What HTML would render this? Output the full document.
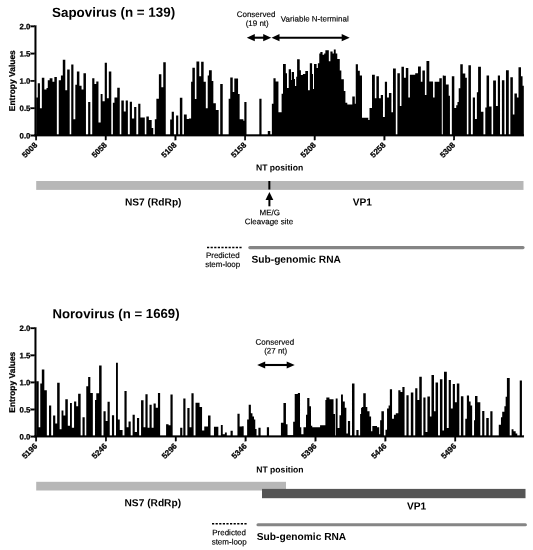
<!DOCTYPE html><html><head><meta charset="utf-8"><title>Entropy</title><style>html,body{margin:0;padding:0;background:#fff}svg{display:block;filter:blur(0.3px)}</style></head><body><svg width="533" height="550" viewBox="0 0 533 550" text-rendering="geometricPrecision" font-family="'Liberation Sans', sans-serif" fill="#000">
<rect width="533" height="550" fill="#fff"/>
<g fill="#000"><path d="M36.19 135.50V97.38H37.76V83.30H39.95V108.34H41.82V77.82H44.33V89.56H46.52V87.99H47.77V80.17H49.65V78.29H52.47V81.73H54.34V77.04H56.85V135.50ZM58.73 135.50V80.17H60.92V75.47H62.79V59.82H65.30V90.34H67.18V69.53H69.68V135.50ZM71.24 135.50V64.52H73.44V119.29H75.31V84.86H76.88V71.56H79.38V85.65H81.57V89.56H83.45V73.13H85.95V135.50ZM88.15 135.50V102.08H90.34V135.50ZM92.21 135.50V78.29H94.40V84.08H96.28V81.42H98.47V122.42H100.66V93.94H102.54V101.29H104.73V62.64H106.92V98.16H108.80V71.56H111.31V135.50ZM112.87 135.50V102.86H114.44V97.38H116.00V97.38H117.25V87.68H119.76V135.50ZM121.32 135.50V100.51H123.82V111.47H125.70V100.51H127.89V135.50ZM129.77 135.50V101.76H131.96V118.51H134.15V107.08H136.34V135.50ZM138.22 135.50V103.64H140.41V117.41H144.79V135.50ZM146.36 135.50V116.47H148.86V120.07H151.68V127.90H153.24V135.50ZM154.81 135.50V119.29H156.37V98.63H158.88V74.22H161.38V87.21H163.26V62.33H165.76V135.50ZM170.15 135.50V119.60H171.71V111.78H173.90V135.50ZM176.09 135.50V115.38H178.28V135.50ZM179.85 135.50V97.69H182.35V135.50ZM183.92 135.50V114.60H186.73V118.98H188.92V118.51H191.11V81.73H192.37V67.65H194.87V98.95H196.44V61.39H198.00V61.39H199.25V76.26H201.13V61.70H203.63V81.73H205.82V108.34H207.70V75.47H208.95V70.15H211.77V80.95H213.34V103.33H215.84V109.90H218.66V135.50ZM220.22 135.50V83.92H222.73V135.50ZM228.67 135.50V98.63H230.24V77.51H232.74V91.90H234.31V78.60H238.06V93.94H239.63V119.29H243.38V120.85H244.32V102.08H246.51V135.50ZM259.34 135.50V98.63H261.53V135.50ZM267.79 135.50V131.03H270.30V135.50ZM271.86 135.50V103.64H273.43V78.29H275.62V81.42H278.44V112.25H280.00V112.20H281.60V93.80H283.00V64.10H285.80V73.30H287.00V88.10H288.70V69.20H291.00V80.00H291.70V72.10H294.00V79.00H295.00V86.00H296.20V76.80H297.10V59.30H299.70V70.20H300.90V75.00H302.90V74.10H305.30V71.10H308.00V90.30H309.80V63.20H312.10V74.10H313.00V89.00H314.00V63.90H316.60V68.00H317.90V63.20H319.28V53.41H320.37V52.00H322.56V54.66H324.13V53.41H325.38V50.28H328.82V61.23H330.39V51.53H332.58V53.41H333.83V49.50H335.71V53.41H337.27V58.89H339.78V70.62H341.34V79.23H343.85V91.12H345.41V102.86H347.29V104.42H352.30V96.60H354.80V103.64H355.74V64.21H357.93V70.78H359.81V75.47H362.00V117.73H368.26V120.07H369.51V108.02H372.02V74.69H374.83V98.16H376.40V76.26H378.90V98.16H380.78V95.03H382.97V116.94H384.85V81.73H387.04V97.38H388.92V93.00H391.42V112.25H392.98V68.43H395.80V135.50ZM397.37 135.50V73.13H399.87V105.99H401.44V66.87H403.94V77.82H405.82V68.12H408.32V97.38H409.89V74.69H415.21V73.13H418.02V66.40H420.84V81.73H422.40V70.47H424.91V95.03H426.47V61.08H429.29V81.42H433.05V97.38H434.61V81.73H439.31V78.29H441.81V135.50ZM442.75 135.50V75.47H444.00V75.79H445.88V84.55H448.69V95.82H449.95V135.50ZM451.82 135.50V76.26H454.33V108.02H456.21V105.21H457.46V102.08H458.71V88.31H460.27V64.21H462.78V73.60H465.28V77.82H466.85V135.50ZM468.41 135.50V65.30H470.92V135.50ZM472.79 135.50V97.38H474.98V118.98H476.86V92.37H478.11V66.87H480.93V111.78H483.44V135.50ZM485.31 135.50V107.55H486.56V75.47H489.07V106.46H491.57V135.50ZM493.14 135.50V80.48H495.95V105.99H497.83V75.47H500.02V135.50ZM501.90 135.50V80.17H504.40V135.50ZM505.97 135.50V70.31H508.79V135.50ZM510.35 135.50V77.35H512.85V114.60H514.42V93.47H516.92V97.38H518.49V67.18H520.99V76.26H522.56V85.65H523.81V135.50Z"/></g>
<g fill="#000" stroke="#000" stroke-width="0.25"><rect x="34.6" y="25.50" width="1.7" height="110.65"/><rect x="34.6" y="134.40" width="489.3" height="1.75"/><rect x="30.7" y="25.50" width="4" height="1.6"/><text transform="translate(30.4,29.20) rotate(-0.05)" text-anchor="end" font-size="7.8" font-weight="bold">2.0</text><rect x="30.7" y="52.80" width="4" height="1.6"/><text transform="translate(30.4,56.50) rotate(-0.05)" text-anchor="end" font-size="7.8" font-weight="bold">1.5</text><rect x="30.7" y="80.10" width="4" height="1.6"/><text transform="translate(30.4,83.80) rotate(-0.05)" text-anchor="end" font-size="7.8" font-weight="bold">1.0</text><rect x="30.7" y="107.40" width="4" height="1.6"/><text transform="translate(30.4,111.10) rotate(-0.05)" text-anchor="end" font-size="7.8" font-weight="bold">0.5</text><rect x="30.7" y="134.70" width="4" height="1.6"/><text transform="translate(30.4,138.40) rotate(-0.05)" text-anchor="end" font-size="7.8" font-weight="bold">0.0</text><rect x="35.30" y="135.50" width="1.6" height="4.6"/><text transform="translate(37.80,145.60) rotate(-45)" text-anchor="end" font-size="8.0" font-weight="bold">5008</text><rect x="104.96" y="135.50" width="1.6" height="4.6"/><text transform="translate(107.46,145.60) rotate(-45)" text-anchor="end" font-size="8.0" font-weight="bold">5058</text><rect x="174.62" y="135.50" width="1.6" height="4.6"/><text transform="translate(177.12,145.60) rotate(-45)" text-anchor="end" font-size="8.0" font-weight="bold">5108</text><rect x="244.28" y="135.50" width="1.6" height="4.6"/><text transform="translate(246.78,145.60) rotate(-45)" text-anchor="end" font-size="8.0" font-weight="bold">5158</text><rect x="313.94" y="135.50" width="1.6" height="4.6"/><text transform="translate(316.44,145.60) rotate(-45)" text-anchor="end" font-size="8.0" font-weight="bold">5208</text><rect x="383.60" y="135.50" width="1.6" height="4.6"/><text transform="translate(386.10,145.60) rotate(-45)" text-anchor="end" font-size="8.0" font-weight="bold">5258</text><rect x="453.26" y="135.50" width="1.6" height="4.6"/><text transform="translate(455.76,145.60) rotate(-45)" text-anchor="end" font-size="8.0" font-weight="bold">5308</text><text transform="translate(14.5,80.70) rotate(-90)" text-anchor="middle" font-size="8.45" font-weight="bold">Entropy Values</text></g>
<text transform="translate(52,16.9) rotate(-0.05)" font-size="13.4" font-weight="bold">Sapovirus (n = 139)</text>
<text transform="translate(256,17.1) rotate(-0.05)" font-size="8.0" stroke="#000" stroke-width="0.15" text-anchor="middle">Conserved</text>
<text transform="translate(257.2,25.9) rotate(-0.05)" font-size="8.0" stroke="#000" stroke-width="0.15" text-anchor="middle">(19 nt)</text>
<text transform="translate(314.8,21.6) rotate(-0.05)" font-size="8.0" stroke="#000" stroke-width="0.15" text-anchor="middle">Variable N-terminal</text>
<path d="M253.8 37.7H264.2" stroke="#000" stroke-width="2.1" fill="none"/><path d="M246.8 37.7L254.8 34.1V41.300000000000004Z M271.2 37.7L263.2 34.1V41.300000000000004Z" fill="#000"/>
<path d="M278.5 37.7H342.7" stroke="#000" stroke-width="2.1" fill="none"/><path d="M271.5 37.7L279.5 34.1V41.300000000000004Z M349.7 37.7L341.7 34.1V41.300000000000004Z" fill="#000"/>
<text transform="translate(279.6,170.6) rotate(-0.05)" font-size="8.6" font-weight="bold" text-anchor="middle">NT position</text>
<rect x="36.2" y="181" width="487.3" height="8.9" fill="#b7b7b7"/>
<rect x="268.35" y="181" width="2.0" height="8.5" fill="#000"/>
<path d="M269.4 206.3V198" stroke="#000" stroke-width="2.0"/><path d="M269.4 191.9L273.3 200H265.5Z" fill="#000"/>
<text transform="translate(153.2,205.4) rotate(-0.05)" font-size="10.2" font-weight="bold" text-anchor="middle">NS7 (RdRp)</text>
<text transform="translate(362.4,205.4) rotate(-0.05)" font-size="10.2" font-weight="bold" text-anchor="middle">VP1</text>
<text transform="translate(269.8,215.2) rotate(-0.05)" font-size="8.0" stroke="#000" stroke-width="0.15" text-anchor="middle">ME/G</text>
<text transform="translate(269,224.2) rotate(-0.05)" font-size="8.0" stroke="#000" stroke-width="0.15" text-anchor="middle">Cleavage site</text>
<path d="M207 247.4H241.7" stroke="#000" stroke-width="1.5" stroke-dasharray="2.2 1.4" fill="none"/>
<text transform="translate(222.8,258) rotate(-0.05)" font-size="8.0" stroke="#000" stroke-width="0.15" text-anchor="middle">Predicted</text>
<text transform="translate(222.7,267) rotate(-0.05)" font-size="8.0" stroke="#000" stroke-width="0.15" text-anchor="middle">stem-loop</text>
<path d="M249.8 247.6H523" stroke="#858585" stroke-width="3.1" stroke-linecap="round" fill="none"/>
<text transform="translate(251.5,262.7) rotate(-0.05)" font-size="10.2" font-weight="bold">Sub-genomic RNA</text>
<g fill="#000"><path d="M36.19 436.60V381.17H38.69V427.33H40.26V383.52H41.82V369.43H44.33V390.24H46.83V436.60ZM49.02 436.60V405.42H51.21V436.60ZM53.09 436.60V415.60H55.28V423.42H57.16V382.73H59.66V429.37H61.54V410.59H63.42V415.60H65.30V399.16H67.80V425.77H69.99V403.08H71.87V427.80H74.06V401.51H76.25V406.21H78.13V393.69H80.63V436.60ZM82.51 436.60V417.16H84.70V436.60ZM86.27 436.60V386.18H88.15V376.94H90.34V392.90H92.84V436.60ZM95.03 436.60V399.95H96.28V393.37H99.10V365.52H101.60V436.60ZM103.48 436.60V411.21H105.67V421.07H107.55V401.82H109.74V436.60ZM111.93 436.60V415.28H114.12V436.60ZM116.00 436.60V362.70H117.88V419.51H119.76V429.99H122.57V436.60ZM124.45 436.60V391.03H126.64V427.33H128.52V421.54H130.71V436.60ZM132.59 436.60V414.81H134.78V432.03H136.97V417.94H139.16V436.60ZM141.04 436.60V400.26H143.54V427.33H145.42V394.16H147.61V427.80H149.49V404.64H151.68V427.80H153.56V403.39H155.75V407.77H157.94V392.90H160.13V436.60ZM166.08 436.60V424.20H168.58V425.30H170.46V394.47H172.65V436.60ZM180.16 436.60V427.65H182.35V436.60ZM183.29 436.60V398.38H185.48V436.60ZM187.36 436.60V408.08H189.55V427.33H191.43V393.37H193.62V436.60ZM195.50 436.60V402.76H198.00V402.76H199.56V406.99H202.07V430.46H204.26V426.55H208.02V415.60H210.52V436.60ZM213.96 436.60V426.86H218.34V436.60ZM220.85 436.60V424.98H222.73V434.37H224.92V432.50H226.79V436.60ZM230.55 436.60V430.77H232.74V436.60ZM237.44 436.60V413.72H239.63V426.55H241.82V426.24H243.69V436.60ZM247.14 436.60V419.51H248.70V404.64H250.89V413.25H252.46V416.38H254.02V419.51H255.27V428.90H256.53V436.60ZM258.40 436.60V427.80H260.60V436.60ZM266.85 436.60V427.33H269.05V436.60ZM280.94 436.60V422.64H283.44V403.08H285.95V424.20H287.51V435.16H293.15V421.85H294.71V394.00H297.84V392.90H300.03V427.33H301.28V434.37H303.47V427.33H305.98V414.81H307.23V398.07H309.42V406.21H310.98V425.77H312.24V427.33H320.06V425.30H325.38V399.95H326.32V397.60H329.45V399.16H333.52V414.03H335.08V436.60ZM335.71 436.60V398.38H337.59V428.11H339.47V415.28H341.03V394.47H342.91V401.51H344.79V407.77H346.35V433.59H347.92V421.07H350.11V436.60ZM351.98 436.60V383.52H354.49V436.60ZM356.37 436.60V429.99H358.56V436.60ZM360.12 436.60V414.03H361.06V407.77H362.00V406.99H363.25V393.37H365.76V406.99H367.32V411.21H369.51V416.38H371.08V431.24H372.33V426.08H377.02V427.33H379.21V434.37H380.15V420.29H381.40V411.21H383.91V436.60ZM385.47 436.60V429.68H387.04V408.55H388.60V405.42H389.85V389.31H392.05V418.73H393.92V414.81H395.80V413.25H398.31V390.24H400.50V392.12H402.37V387.11H404.56V436.60ZM406.44 436.60V395.25H408.63V436.60ZM410.82 436.60V392.44H413.33V436.60ZM415.21 436.60V388.21H417.40V399.95H419.27V376.79H421.78V436.60ZM423.34 436.60V397.60H425.53V432.03H427.41V396.50H429.92V416.38H431.48V374.91H433.98V411.21H435.55V382.42H438.05V436.60ZM439.93 436.60V379.29H442.44V430.46H444.00V371.78H446.82V428.11H448.69V379.92H450.89V408.55H452.76V383.98H454.95V402.29H456.83V383.52H459.34V436.60ZM460.90 436.60V396.35H463.40V436.60ZM465.28 436.60V418.73H466.85V395.56H469.04V401.51H470.60V405.42H472.17V436.60ZM474.05 436.60V420.29H474.98V396.03H477.49V402.29H480.31V436.60ZM482.18 436.60V410.90H484.37V436.60ZM486.25 436.60V417.94H488.76V436.60ZM490.32 436.60V411.37H492.51V436.60ZM498.77 436.60V424.67H500.96V417.16H502.21V411.68H504.40V406.21H505.66V396.82H506.91V378.04H509.73V436.60ZM511.60 436.60V429.21H513.48V431.24H515.67V433.59H517.24V436.60ZM519.74 436.60V380.39H521.93V436.60Z"/></g>
<g fill="#000" stroke="#000" stroke-width="0.25"><rect x="34.6" y="327.40" width="1.7" height="109.85"/><rect x="34.6" y="435.50" width="489.3" height="1.75"/><rect x="30.7" y="327.40" width="4" height="1.6"/><text transform="translate(30.4,331.10) rotate(-0.05)" text-anchor="end" font-size="7.8" font-weight="bold">2.0</text><rect x="30.7" y="354.50" width="4" height="1.6"/><text transform="translate(30.4,358.20) rotate(-0.05)" text-anchor="end" font-size="7.8" font-weight="bold">1.5</text><rect x="30.7" y="381.60" width="4" height="1.6"/><text transform="translate(30.4,385.30) rotate(-0.05)" text-anchor="end" font-size="7.8" font-weight="bold">1.0</text><rect x="30.7" y="408.70" width="4" height="1.6"/><text transform="translate(30.4,412.40) rotate(-0.05)" text-anchor="end" font-size="7.8" font-weight="bold">0.5</text><rect x="30.7" y="435.80" width="4" height="1.6"/><text transform="translate(30.4,439.50) rotate(-0.05)" text-anchor="end" font-size="7.8" font-weight="bold">0.0</text><rect x="35.30" y="436.60" width="1.6" height="4.6"/><text transform="translate(37.80,446.70) rotate(-45)" text-anchor="end" font-size="8.0" font-weight="bold">5196</text><rect x="105.15" y="436.60" width="1.6" height="4.6"/><text transform="translate(107.65,446.70) rotate(-45)" text-anchor="end" font-size="8.0" font-weight="bold">5246</text><rect x="175.00" y="436.60" width="1.6" height="4.6"/><text transform="translate(177.50,446.70) rotate(-45)" text-anchor="end" font-size="8.0" font-weight="bold">5296</text><rect x="244.85" y="436.60" width="1.6" height="4.6"/><text transform="translate(247.35,446.70) rotate(-45)" text-anchor="end" font-size="8.0" font-weight="bold">5346</text><rect x="314.70" y="436.60" width="1.6" height="4.6"/><text transform="translate(317.20,446.70) rotate(-45)" text-anchor="end" font-size="8.0" font-weight="bold">5396</text><rect x="384.55" y="436.60" width="1.6" height="4.6"/><text transform="translate(387.05,446.70) rotate(-45)" text-anchor="end" font-size="8.0" font-weight="bold">5446</text><rect x="454.40" y="436.60" width="1.6" height="4.6"/><text transform="translate(456.90,446.70) rotate(-45)" text-anchor="end" font-size="8.0" font-weight="bold">5496</text><text transform="translate(14.5,382.20) rotate(-90)" text-anchor="middle" font-size="8.45" font-weight="bold">Entropy Values</text></g>
<text transform="translate(52.4,318.2) rotate(-0.05)" font-size="13.2" font-weight="bold">Norovirus (n = 1669)</text>
<text transform="translate(274.8,344.7) rotate(-0.05)" font-size="8.0" stroke="#000" stroke-width="0.15" text-anchor="middle">Conserved</text>
<text transform="translate(275.7,353.5) rotate(-0.05)" font-size="8.0" stroke="#000" stroke-width="0.15" text-anchor="middle">(27 nt)</text>
<path d="M264.2 365H287.7" stroke="#000" stroke-width="2.1" fill="none"/><path d="M257.2 365L265.2 361.4V368.6Z M294.7 365L286.7 361.4V368.6Z" fill="#000"/>
<text transform="translate(279.9,472.5) rotate(-0.05)" font-size="8.6" font-weight="bold" text-anchor="middle">NT position</text>
<rect x="36.2" y="481.8" width="249.8" height="8.7" fill="#b7b7b7"/>
<rect x="262" y="488.9" width="263.5" height="9.3" fill="#555"/>
<text transform="translate(152.8,506.3) rotate(-0.05)" font-size="10.2" font-weight="bold" text-anchor="middle">NS7 (RdRp)</text>
<text transform="translate(416.6,509.5) rotate(-0.05)" font-size="10.2" font-weight="bold" text-anchor="middle">VP1</text>
<path d="M212 523.8H246.7" stroke="#000" stroke-width="1.5" stroke-dasharray="2.2 1.4" fill="none"/>
<text transform="translate(229.1,535.2) rotate(-0.05)" font-size="8.0" stroke="#000" stroke-width="0.15" text-anchor="middle">Predicted</text>
<text transform="translate(229.2,544.6) rotate(-0.05)" font-size="8.0" stroke="#000" stroke-width="0.15" text-anchor="middle">stem-loop</text>
<path d="M258 524.8H525.4" stroke="#858585" stroke-width="3.1" stroke-linecap="round" fill="none"/>
<text transform="translate(256.8,540) rotate(-0.05)" font-size="10.2" font-weight="bold">Sub-genomic RNA</text>
</svg></body></html>
